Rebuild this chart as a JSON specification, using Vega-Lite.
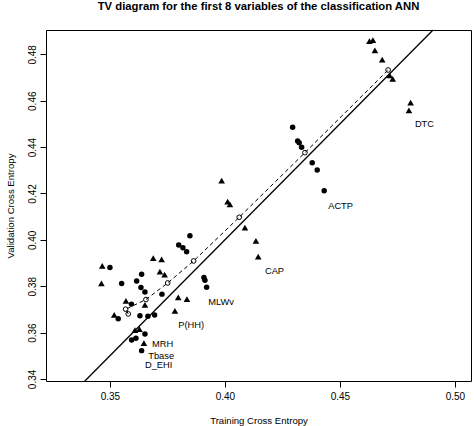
{
  "$schema": "https://vega.github.io/schema/vega-lite/v6.json",
  "autosize": "none",
  "width": 425,
  "height": 351,
  "padding": {"left": 46, "top": 30, "right": 3, "bottom": 45},
  "background": "white",
  "title": {
    "text": "TV diagram for the first 8 variables of the classification ANN",
    "font": "Liberation Sans",
    "fontSize": 11.3,
    "fontWeight": "bold",
    "color": "black",
    "anchor": "middle",
    "baseline": "alphabetic",
    "offset": 6
  },
  "datasets": {
    "runs": [
      {"train": 0.34665, "valid": 0.38873, "kind": "triangle"},
      {"train": 0.34630, "valid": 0.38118, "kind": "triangle"},
      {"train": 0.35696, "valid": 0.37364, "kind": "triangle"},
      {"train": 0.35187, "valid": 0.36760, "kind": "triangle"},
      {"train": 0.36883, "valid": 0.39205, "kind": "triangle"},
      {"train": 0.37248, "valid": 0.39153, "kind": "triangle"},
      {"train": 0.37174, "valid": 0.38627, "kind": "triangle"},
      {"train": 0.37378, "valid": 0.38498, "kind": "triangle"},
      {"train": 0.36522, "valid": 0.37191, "kind": "triangle"},
      {"train": 0.37970, "valid": 0.37514, "kind": "triangle"},
      {"train": 0.38348, "valid": 0.37437, "kind": "triangle"},
      {"train": 0.37826, "valid": 0.36932, "kind": "triangle"},
      {"train": 0.36087, "valid": 0.36100, "kind": "triangle"},
      {"train": 0.36283, "valid": 0.36143, "kind": "triangle"},
      {"train": 0.36478, "valid": 0.35539, "kind": "triangle"},
      {"train": 0.39857, "valid": 0.42551, "kind": "triangle"},
      {"train": 0.40117, "valid": 0.41646, "kind": "triangle"},
      {"train": 0.40217, "valid": 0.41525, "kind": "triangle"},
      {"train": 0.40870, "valid": 0.40524, "kind": "triangle"},
      {"train": 0.41348, "valid": 0.39951, "kind": "triangle"},
      {"train": 0.41448, "valid": 0.39274, "kind": "triangle"},
      {"train": 0.46283, "valid": 0.48575, "kind": "triangle"},
      {"train": 0.46435, "valid": 0.48618, "kind": "triangle"},
      {"train": 0.46522, "valid": 0.48166, "kind": "triangle"},
      {"train": 0.46839, "valid": 0.47769, "kind": "triangle"},
      {"train": 0.47161, "valid": 0.47088, "kind": "triangle"},
      {"train": 0.47296, "valid": 0.46945, "kind": "triangle"},
      {"train": 0.48074, "valid": 0.45915, "kind": "triangle"},
      {"train": 0.48000, "valid": 0.45578, "kind": "triangle"},
      {"train": 0.35000, "valid": 0.38808, "kind": "circle"},
      {"train": 0.35509, "valid": 0.38118, "kind": "circle"},
      {"train": 0.36161, "valid": 0.38226, "kind": "circle"},
      {"train": 0.36378, "valid": 0.38515, "kind": "circle"},
      {"train": 0.35935, "valid": 0.37226, "kind": "circle"},
      {"train": 0.35361, "valid": 0.36596, "kind": "circle"},
      {"train": 0.36348, "valid": 0.37946, "kind": "circle"},
      {"train": 0.36522, "valid": 0.37752, "kind": "circle"},
      {"train": 0.37261, "valid": 0.37657, "kind": "circle"},
      {"train": 0.37991, "valid": 0.39778, "kind": "circle"},
      {"train": 0.38174, "valid": 0.39658, "kind": "circle"},
      {"train": 0.38335, "valid": 0.39489, "kind": "circle"},
      {"train": 0.38478, "valid": 0.40175, "kind": "circle"},
      {"train": 0.36304, "valid": 0.36725, "kind": "circle"},
      {"train": 0.36652, "valid": 0.36704, "kind": "circle"},
      {"train": 0.36943, "valid": 0.36760, "kind": "circle"},
      {"train": 0.36522, "valid": 0.35940, "kind": "circle"},
      {"train": 0.35943, "valid": 0.35682, "kind": "circle"},
      {"train": 0.36130, "valid": 0.35755, "kind": "circle"},
      {"train": 0.36378, "valid": 0.35220, "kind": "circle"},
      {"train": 0.39087, "valid": 0.38377, "kind": "circle"},
      {"train": 0.39130, "valid": 0.38256, "kind": "circle"},
      {"train": 0.39204, "valid": 0.37954, "kind": "circle"},
      {"train": 0.42944, "valid": 0.44854, "kind": "circle"},
      {"train": 0.43161, "valid": 0.44263, "kind": "circle"},
      {"train": 0.43230, "valid": 0.44190, "kind": "circle"},
      {"train": 0.43335, "valid": 0.43991, "kind": "circle"},
      {"train": 0.43796, "valid": 0.43327, "kind": "circle"},
      {"train": 0.44013, "valid": 0.43013, "kind": "circle"},
      {"train": 0.44317, "valid": 0.42120, "kind": "circle"}
    ],
    "means": [
      {"step": 1, "train": 0.35796, "valid": 0.36803},
      {"step": 2, "train": 0.35683, "valid": 0.37006},
      {"step": 3, "train": 0.36565, "valid": 0.37424},
      {"step": 4, "train": 0.37513, "valid": 0.38140},
      {"step": 5, "train": 0.38639, "valid": 0.39088},
      {"step": 6, "train": 0.40622, "valid": 0.40973},
      {"step": 7, "train": 0.43478, "valid": 0.43759},
      {"step": 8, "train": 0.47096, "valid": 0.47325}
    ],
    "diagonal": [
      {"train": 0.3391, "valid": 0.3391},
      {"train": 0.4905, "valid": 0.4905}
    ],
    "names": [
      {"train": 0.36826, "valid": 0.35509, "name": "MRH"},
      {"train": 0.36665, "valid": 0.35000, "name": "Tbase"},
      {"train": 0.36522, "valid": 0.34591, "name": "D_EHI"},
      {"train": 0.37970, "valid": 0.36329, "name": "P(HH)"},
      {"train": 0.39274, "valid": 0.37307, "name": "MLWv"},
      {"train": 0.41739, "valid": 0.38670, "name": "CAP"},
      {"train": 0.44491, "valid": 0.41473, "name": "ACTP"},
      {"train": 0.48261, "valid": 0.44983, "name": "DTC"}
    ]
  },
  "encoding": {
    "x": {
      "field": "train",
      "type": "quantitative",
      "scale": {"domain": [0.3222, 0.507], "zero": false, "nice": false},
      "axis": {
        "title": "Training Cross Entropy",
        "values": [0.35, 0.40, 0.45, 0.50],
        "format": ".2f",
        "labelPadding": 4,
        "titlePadding": 14
      }
    },
    "y": {
      "field": "valid",
      "type": "quantitative",
      "scale": {"domain": [0.3391, 0.4905], "zero": false, "nice": false},
      "axis": {
        "title": "Validation Cross Entropy",
        "values": [0.34, 0.36, 0.38, 0.40, 0.42, 0.44, 0.46, 0.48],
        "format": ".2f",
        "labelAngle": 270,
        "labelAlign": "center",
        "labelBaseline": "bottom",
        "labelPadding": 3,
        "titlePadding": 12
      }
    }
  },
  "layer": [
    {
      "data": {"name": "diagonal"},
      "mark": {"type": "line", "color": "black", "strokeWidth": 1.3}
    },
    {
      "data": {"name": "means"},
      "mark": {"type": "line", "color": "black", "strokeWidth": 1, "strokeDash": [4, 3]},
      "encoding": {"order": {"field": "step"}}
    },
    {
      "data": {"name": "means"},
      "mark": {"type": "point", "shape": "circle", "filled": false, "color": "black", "size": 22, "strokeWidth": 1, "opacity": 1}
    },
    {
      "data": {"name": "runs"},
      "mark": {"type": "point", "filled": true, "color": "black", "opacity": 1},
      "encoding": {
        "shape": {
          "field": "kind",
          "type": "nominal",
          "scale": {"domain": ["circle", "triangle"], "range": ["circle", "triangle-up"]},
          "legend": null
        },
        "size": {
          "field": "kind",
          "type": "nominal",
          "scale": {"domain": ["circle", "triangle"], "range": [30, 44]},
          "legend": null
        }
      }
    },
    {
      "data": {"name": "names"},
      "mark": {"type": "text", "align": "left", "baseline": "middle", "font": "Liberation Sans", "fontSize": 9.3, "color": "black"},
      "encoding": {"text": {"field": "name"}}
    }
  ],
  "config": {
    "view": {"stroke": "black", "strokeWidth": 1},
    "axis": {
      "grid": false,
      "domain": false,
      "ticks": true,
      "tickColor": "black",
      "tickSize": 6,
      "tickWidth": 1,
      "labelFont": "Liberation Sans",
      "labelFontSize": 10,
      "labelColor": "black",
      "titleFont": "Liberation Sans",
      "titleFontSize": 9.6,
      "titleFontWeight": "normal",
      "titleColor": "black"
    }
  }
}
